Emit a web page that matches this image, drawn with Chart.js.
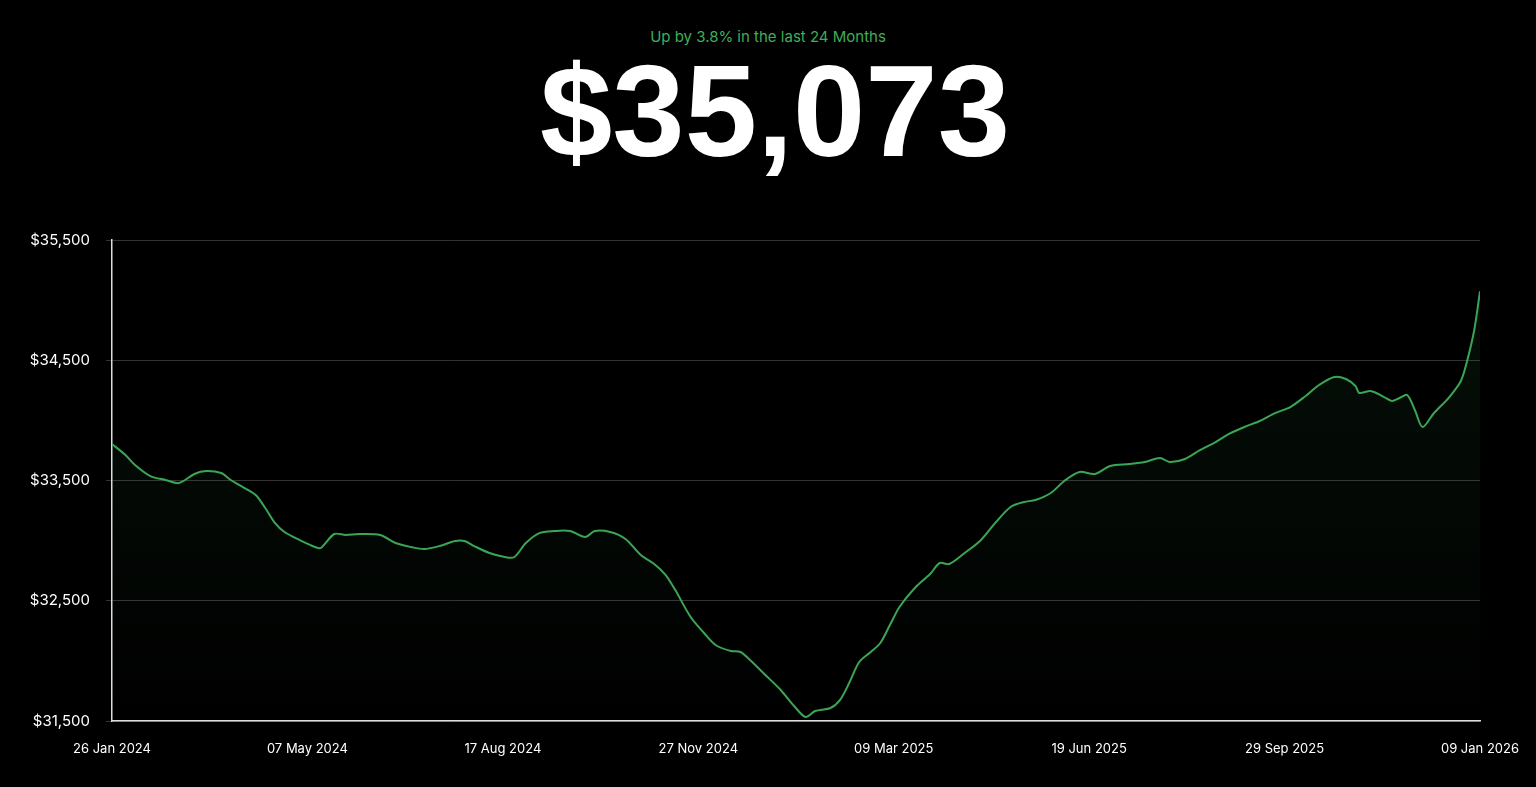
<!DOCTYPE html>
<html>
<head>
<meta charset="utf-8">
<script src="https://cdn.jsdelivr.net/npm/chart.js@4"></script>
<style>
  html, body { margin: 0; padding: 0; background: #000; width: 1536px; height: 787px; overflow: hidden; }
  #sub { position: absolute; top: 27px; left: 0; width: 1536px; text-align: center; color: #3fae5a; font: 15px Inter, sans-serif; }
  #big { position: absolute; top: 36px; left: 0; width: 1550px; text-align: center; color: #fff; font: bold 130px "Liberation Sans", Arial, sans-serif; line-height: 150px; }
  #wrap { position: absolute; left: 0; top: 0; }
</style>
</head>
<body>
<div id="sub">Up by 3.8% in the last 24 Months</div>
<div id="big">$35,073</div>
<div id="wrap"><canvas id="chart" width="1536" height="787"></canvas></div>
<script>
  // days since 26 Jan 2024
  const days = [0,7,12,20,28,35,43,49,57,62,69,75,80,85,90,98,106,109,116,122,129,140,148,156,163,171,179,184,189,197,205,210,216,223,231,239,247,252,260,268,276,283,289,294,302,309,315,323,328,333,341,349,356,362,367,375,380,385,390,396,401,406,411,419,427,432,437,445,453,461,469,476,482,490,497,505,513,521,531,539,547,552,560,568,576,583,591,599,607,615,623,630,638,644,649,651,657,664,668,672,676,680,684,690,698,704,707,711,714];
  const values = [33804,33712,33629,33537,33504,33479,33554,33579,33562,33504,33438,33379,33271,33147,33072,33005,32947,32939,33055,33047,33055,33047,32980,32947,32930,32955,32997,32997,32955,32897,32864,32864,32980,33063,33080,33080,33030,33080,33072,33014,32880,32806,32714,32589,32365,32232,32132,32082,32074,32007,31883,31758,31625,31533,31583,31608,31675,31824,31991,32074,32149,32298,32448,32606,32722,32814,32806,32897,32997,33147,33280,33321,33338,33396,33496,33571,33554,33621,33637,33654,33687,33654,33679,33754,33820,33887,33945,33995,34061,34111,34203,34294,34361,34344,34286,34228,34244,34194,34161,34186,34211,34086,33945,34061,34194,34327,34477,34752,35073];
  const startDate = new Date(Date.UTC(2024, 0, 26));
  const months = ['Jan','Feb','Mar','Apr','May','Jun','Jul','Aug','Sep','Oct','Nov','Dec'];

  function fmtDay(d) {
    const dt = new Date(startDate.getTime() + d * 86400000);
    return String(dt.getUTCDate()).padStart(2, '0') + ' ' + months[dt.getUTCMonth()] + ' ' + dt.getUTCFullYear();
  }

  const ctx = document.getElementById('chart').getContext('2d');
  const grad = ctx.createLinearGradient(0, 240, 0, 721);
  grad.addColorStop(0, 'rgba(60,170,90,0.10)');
  grad.addColorStop(1, 'rgba(60,170,90,0)');

  new Chart(ctx, {
    type: 'line',
    data: {
      datasets: [{
        data: days.map((d, i) => ({ x: d, y: values[i] })),
        borderColor: '#3aa655',
        borderWidth: 2,
        pointRadius: 0,
        tension: 0.3,
        fill: 'origin',
        backgroundColor: grad
      }]
    },
    options: {
      responsive: false,
      animation: false,
      layout: { padding: { top: 240, right: 56, left: 0, bottom: 0 } },
      plugins: { legend: { display: false }, tooltip: { enabled: false } },
      scales: {
        x: {
          type: 'linear',
          min: 0,
          max: 714,
          afterBuildTicks: (s) => { s.ticks = [0,102,204,306,408,510,612,714].map(v => ({ value: v })); },
          afterFit: (s) => { s.height = 66; },
          ticks: { color: '#fff', font: { family: 'Inter', size: 13 }, maxRotation: 0, padding: 12, callback: (v) => fmtDay(v) },
          grid: { display: false },
          border: { color: '#ddd', width: 1.5 }
        },
        y: {
          min: 31500,
          max: 35500,
          afterFit: (s) => { s.width = 112; },
          ticks: { stepSize: 1000, color: '#fff', font: { family: 'Inter', size: 15 }, padding: 16,
                   callback: (v) => '$' + v.toLocaleString('en-US') },
          grid: { color: '#333', tickLength: 6 },
          border: { color: '#ddd', width: 1.5 }
        }
      }
    }
  });
</script>
</body>
</html>
